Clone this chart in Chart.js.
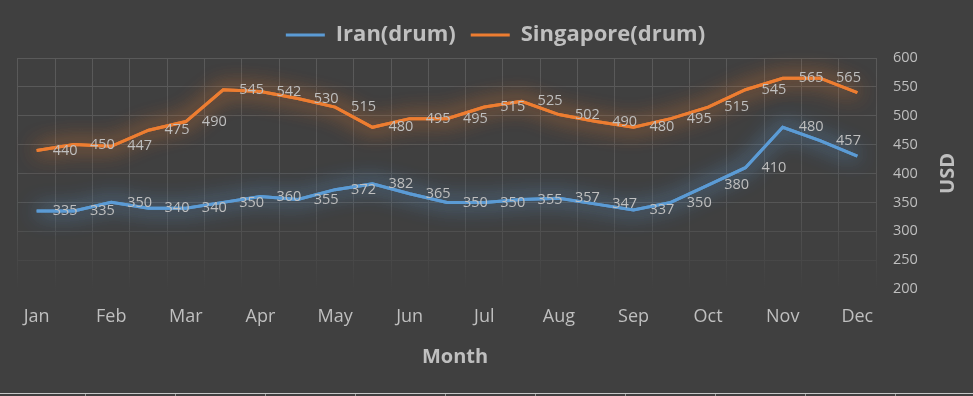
<!DOCTYPE html>
<html>
<head>
<meta charset="utf-8">
<title>Iran(drum) vs Singapore(drum)</title>
<script src="https://cdn.jsdelivr.net/npm/chart.js@4.4.1/dist/chart.umd.min.js"></script>
<style>
  html, body { margin: 0; padding: 0; background: #404040; overflow: hidden; }
  .wrap { position: relative; width: 973px; height: 396px; }
  .sheet-edge {
    position: absolute; left: 0; top: 393px; width: 973px; height: 3px;
    box-sizing: border-box; border-top: 1px solid #c6c6c6;
    background: repeating-linear-gradient(to right, transparent 0, transparent 85px, #9a9a9a 85px, #9a9a9a 86px, transparent 86px, transparent 90px);
  }
</style>
</head>
<body>
<div class="wrap">
  <canvas id="chart-drum" width="973" height="396"></canvas>
  <div class="sheet-edge"></div>
</div>
<script>
// half-month samples, only every other one carries a month name
const labels = ['Jan', '', 'Feb', '', 'Mar', '', 'Apr', '', 'May', '', 'Jun', '', 'Jul', '', 'Aug', '', 'Sep', '', 'Oct', '', 'Nov', '', 'Dec']
const iran = [335, 335, 350, 340, 340, 350, 360, 355, 372, 382, 365, 350, 350, 355, 357, 347, 337, 350, 380, 410, 480, 457, 430]
const singapore = [440, 450, 447, 475, 490, 545, 542, 530, 515, 480, 495, 495, 515, 525, 502, 490, 480, 495, 515, 545, 565, 565, 540]
const yMin = 200
const yMax = 600
const yStep = 50

const textColor = '#bfbfbf'
Chart.defaults.font.family = '"Open Sans", sans-serif'
Chart.defaults.color = textColor

let gridGradient = null
function gridColor(c) {
  const area = c.chart.chartArea
  if (!area) return '#585858'
  if (!gridGradient) {
    gridGradient = c.chart.ctx.createLinearGradient(0, area.top, 0, area.bottom)
    gridGradient.addColorStop(0, '#5a5a5a')
    gridGradient.addColorStop(0.65, '#555555')
    gridGradient.addColorStop(1, '#404040')
  }
  return gridGradient
}

const legendHeight = {
  id: 'legendHeight',
  beforeInit(chart) {
    const fit = chart.legend.fit
    chart.legend.fit = function () {
      fit.bind(chart.legend)()
      this.height = 49
    }
  }
}

// soft halo under each line: one extra shadowed pass, then the normal draw keeps the shadow too
const glow = {
  id: 'glow',
  beforeDatasetDraw(chart, args) {
    const ctx = chart.ctx
    const ds = chart.data.datasets[args.index]
    ctx.save()
    ctx.shadowColor = ds.glowColor
    ctx.shadowBlur = 22
    args.meta.dataset.draw(ctx, chart.chartArea)
  },
  afterDatasetDraw(chart) {
    chart.ctx.restore()
  }
}

const valueLabels = {
  id: 'valueLabels',
  afterDatasetsDraw(chart) {
    const ctx = chart.ctx
    ctx.save()
    ctx.font = '14.5px "Open Sans"'
    ctx.fillStyle = textColor
    ctx.textAlign = 'left'
    ctx.textBaseline = 'middle'
    chart.data.datasets.forEach((ds, i) => {
      const pts = chart.getDatasetMeta(i).data
      pts.forEach((pt, j) => {
        if (j === pts.length - 1) return
        ctx.fillText(ds.data[j], pt.x + 16, pt.y)
      })
    })
    ctx.restore()
  }
}

const axisTitles = {
  id: 'axisTitles',
  afterDraw(chart) {
    const ctx = chart.ctx
    const a = chart.chartArea
    ctx.save()
    ctx.font = 'bold 20px "Open Sans"'
    ctx.fillStyle = textColor
    ctx.textAlign = 'center'
    ctx.textBaseline = 'middle'
    ctx.fillText('Month', (a.left + a.right) / 2 + 8, 357)
    ctx.translate(948, (a.top + a.bottom) / 2)
    ctx.rotate(-Math.PI / 2)
    ctx.fillText('USD', 0, 0)
    ctx.restore()
  }
}

new Chart(document.getElementById('chart-drum'), {
  type: 'line',
  data: {
    labels,
    datasets: [{
      label: 'Iran(drum)',
      data: iran,
      borderColor: '#5b9bd5',
      backgroundColor: '#5b9bd5',
      glowColor: 'rgba(91,155,213,0.9)',
      borderWidth: 3,
      pointRadius: 0,
      tension: 0
    }, {
      label: 'Singapore(drum)',
      data: singapore,
      borderColor: '#ed7d31',
      backgroundColor: '#ed7d31',
      glowColor: 'rgba(237,125,49,0.9)',
      borderWidth: 3,
      pointRadius: 0,
      tension: 0
    }]
  },
  options: {
    responsive: false,
    animation: false,
    layout: { padding: { left: 18, top: 9, right: 0, bottom: 0 } },
    plugins: {
      legend: {
        labels: {
          boxWidth: 39,
          boxHeight: 3,
          padding: 15,
          color: textColor,
          font: { size: 22, weight: 'bold' },
          generateLabels: chart => Chart.defaults.plugins.legend.labels.generateLabels(chart)
            .map(item => ({ ...item, strokeStyle: 'rgba(0,0,0,0)' }))
        }
      },
      tooltip: { enabled: false }
    },
    scales: {
      x: {
        offset: true,
        grid: { offset: true, color: gridColor, drawTicks: false, tickLength: 0 },
        border: { display: false },
        ticks: { autoSkip: false, maxRotation: 0, padding: 17, font: { size: 18 } },
        afterFit(scale) { scale.height = 107 }
      },
      y: {
        position: 'right',
        min: yMin,
        max: yMax,
        grid: { color: gridColor, drawTicks: false, tickLength: 0 },
        border: { display: false },
        ticks: { stepSize: yStep, padding: 17, font: { size: 14.5 } },
        afterFit(scale) { scale.width = 97 }
      }
    }
  },
  plugins: [legendHeight, glow, valueLabels, axisTitles]
})
</script>
</body>
</html>
